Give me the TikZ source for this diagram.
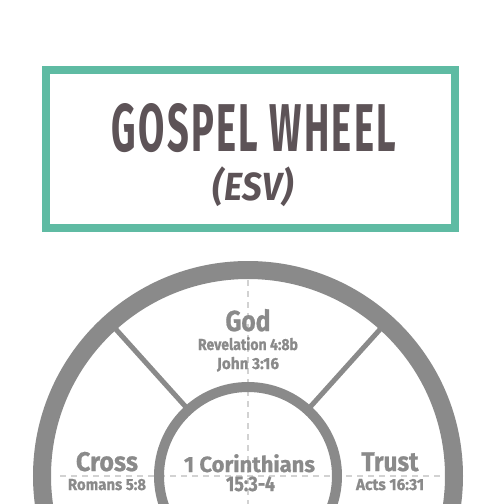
\documentclass[tikz,border=0pt]{standalone}
\usepackage{fontspec}
\setmainfont{Fira Sans}
\newfontfamily\tf[LetterSpace=6]{Fira Sans}
\newfontfamily\ef[LetterSpace=2]{Fira Sans}
\newfontfamily\wf[FakeBold=0.7]{Fira Sans}
\definecolor{teal}{HTML}{5FBBA3}
\definecolor{ttl}{HTML}{5D5357}
\definecolor{wg}{HTML}{8A8A8A}
\definecolor{dg}{HTML}{D2D2D2}
\newcommand\wtext[3]{\resizebox{#1pt}{\height}{\wf\fontsize{#2}{#2}\selectfont\bfseries #3}}
\begin{document}
\begin{tikzpicture}[x=1pt,y=-1pt,
  lbl/.style={inner sep=0,anchor=base,text=wg},
  guide/.style={dg,line width=1.2,dash pattern=on 6 off 5}]
\useasboundingbox (0,0) rectangle (501,504);
\clip (0,0) rectangle (501,504);
\fill[white] (0,0) rectangle (501,504);
% title frame
\draw[teal,line width=8] (46,70) rectangle (455,228);
\node[inner sep=0,anchor=base,text=ttl] (title) at (254,151) {\resizebox{284pt}{48pt}{\tf\bfseries GOSPEL WHEEL}};
\node[inner sep=0,text=ttl] (esv) at (253,187) {\resizebox*{81pt}{40pt}{\ef\bfseries\itshape (ESV)}};
% wheel
\coordinate (c) at (248,476);
\draw[guide] (248,280) -- (248,504);
\draw[guide] (60,476) -- (443,476);
\draw[wg,line width=18] (c) circle[radius=206];
\draw[wg,line width=10] (c) circle[radius=89];
\draw[wg,line width=5,shift={(248,476)}] (-132:92) -- (-132:199);
\draw[wg,line width=5,shift={(248,476)}] (-48:92) -- (-48:199);
% labels
\node[lbl] (god) at (248,331) {\wtext{45}{29}{God}};
\node[lbl] (rev) at (248,350) {\wtext{100}{16}{Revelation 4:8b}};
\node[lbl] (john) at (248,369) {\wtext{62}{16}{John 3:16}};
\node[lbl] (cross) at (107,471) {\wtext{62}{27}{Cross}};
\node[lbl] (rom) at (107,490) {\wtext{78}{16}{Romans 5:8}};
\node[lbl] (trust) at (390,471) {\wtext{57}{27}{Trust}};
\node[lbl] (acts) at (390,490) {\wtext{68}{16}{Acts 16:31}};
\node[lbl] (cor) at (249.5,472) {\wtext{131}{22}{1 Corinthians}};
\node[lbl] (vs) at (250.5,491) {\wtext{49}{21}{15:3-4}};
\end{tikzpicture}
\end{document}
